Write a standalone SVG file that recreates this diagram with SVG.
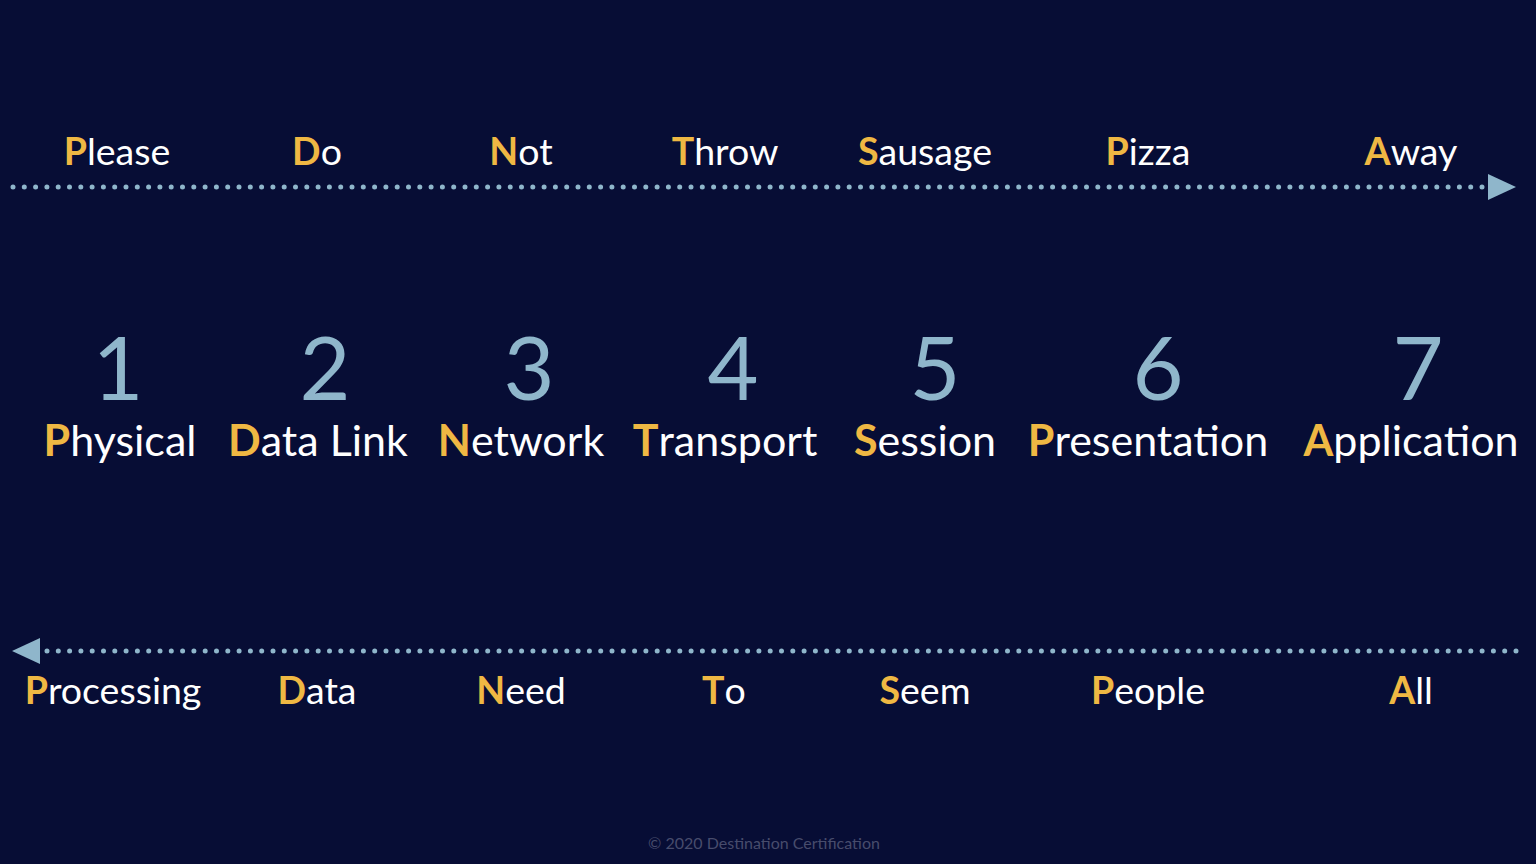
<svg xmlns="http://www.w3.org/2000/svg" width="1536" height="864" viewBox="0 0 1536 864">
<style>
.w{font-family:Lato,"Noto Sans",sans-serif;fill:#ffffff;text-anchor:middle}
.y{fill:#efb843;font-weight:bold}
.top{font-size:37.5px}
.lay{font-size:43px}
.num{font-family:Lato,"Noto Sans",sans-serif;fill:#8fb6cb;font-size:88px;text-anchor:middle}
.dots{stroke:#8fb6cb;stroke-width:5;stroke-linecap:round;stroke-dasharray:0 11.3;fill:none}
.tri{fill:#8fb6cb}
.copy{font-family:Lato,"Noto Sans",sans-serif;fill:#474c6c;font-size:16px;text-anchor:middle}
</style>
<rect width="1536" height="864" fill="#070d35"/>
<g id="connectors">
<line class="dots" x1="13" y1="187" x2="1484" y2="187"/>
<polygon class="tri" points="1488,174 1516,187 1488,200"/>
<line class="dots" x1="47" y1="651" x2="1516" y2="651"/>
<polygon class="tri" points="40,638 12,651 40,664"/>
</g>
<g id="top-words">
<text class="w top" x="117" y="165"><tspan class="y">P</tspan>lease</text>
<text class="w top" x="317" y="165"><tspan class="y">D</tspan>o</text>
<text class="w top" x="521" y="165"><tspan class="y">N</tspan>ot</text>
<text class="w top" x="725" y="165"><tspan class="y">T</tspan>hrow</text>
<text class="w top" x="925" y="165"><tspan class="y">S</tspan>ausage</text>
<text class="w top" x="1148" y="165"><tspan class="y">P</tspan>izza</text>
<text class="w top" x="1411" y="165"><tspan class="y">A</tspan>way</text>
</g>
<g id="layer1"><text class="num" x="118" y="400">1</text><text class="w lay" x="120" y="456"><tspan class="y">P</tspan>hysical</text></g>
<g id="layer2"><text class="num" x="325" y="400">2</text><text class="w lay" x="318" y="456"><tspan class="y">D</tspan>ata Link</text></g>
<g id="layer3"><text class="num" x="529" y="400">3</text><text class="w lay" x="521" y="456"><tspan class="y">N</tspan>etwork</text></g>
<g id="layer4"><text class="num" x="733" y="400">4</text><text class="w lay" x="725" y="456"><tspan class="y">T</tspan>ransport</text></g>
<g id="layer5"><text class="num" x="935" y="400">5</text><text class="w lay" x="925" y="456"><tspan class="y">S</tspan>ession</text></g>
<g id="layer6"><text class="num" x="1158" y="400">6</text><text class="w lay" x="1148" y="456"><tspan class="y">P</tspan>resentation</text></g>
<g id="layer7"><text class="num" x="1418" y="400">7</text><text class="w lay" x="1411" y="456"><tspan class="y">A</tspan>pplication</text></g>
<g id="bottom-words">
<text class="w top" x="113" y="704"><tspan class="y">P</tspan>rocessing</text>
<text class="w top" x="317" y="704"><tspan class="y">D</tspan>ata</text>
<text class="w top" x="521" y="704"><tspan class="y">N</tspan>eed</text>
<text class="w top" x="724" y="704"><tspan class="y">T</tspan>o</text>
<text class="w top" x="925" y="704"><tspan class="y">S</tspan>eem</text>
<text class="w top" x="1148" y="704"><tspan class="y">P</tspan>eople</text>
<text class="w top" x="1411" y="704"><tspan class="y">A</tspan>ll</text>
</g>
<text class="copy" x="764" y="849">© 2020 Destination Certification</text>
</svg>
